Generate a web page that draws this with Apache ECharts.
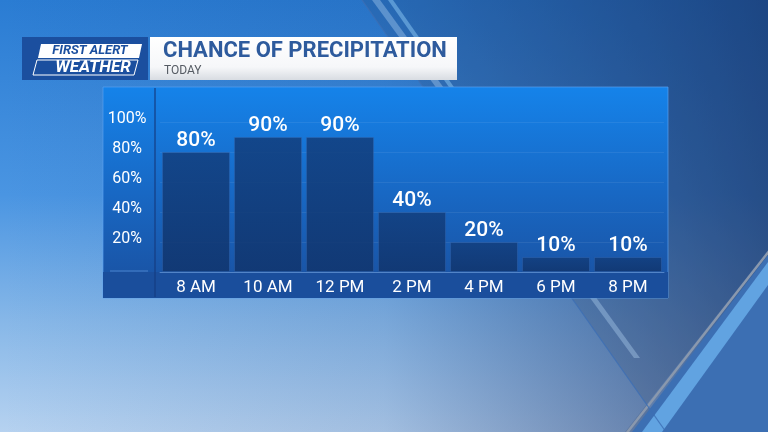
<!DOCTYPE html>
<html>
<head>
<meta charset="utf-8">
<script src="https://cdn.jsdelivr.net/npm/echarts@6/dist/echarts.min.js"></script>
<style>
  html, body { margin: 0; padding: 0; }
  #chart { width: 768px; height: 432px; }
</style>
</head>
<body>
<div id="chart"></div>
<script>
const hours = ['8 AM', '10 AM', '12 PM', '2 PM', '4 PM', '6 PM', '8 PM']
const precipChance = [80, 90, 90, 40, 20, 10, 10]
const yTicks = [0, 20, 40, 60, 80, 100]

const titleText = 'CHANCE OF PRECIPITATION'
const subtitleText = 'TODAY'

const FONT = 'Roboto, "DejaVu Sans", sans-serif'

const chart = echarts.init(document.getElementById('chart'), null, { renderer: 'canvas' })

// backdrop, panel and header are plain decoration
const backdrop = [
  {
    type: 'rect', z: -20, silent: true,
    shape: { x: 0, y: 0, width: 768, height: 432 },
    style: {
      fill: new echarts.graphic.LinearGradient(0, 0, 0, 1, [
        { offset: 0, color: '#2a7cd3' },
        { offset: 0.45, color: '#4a95e2' },
        { offset: 0.75, color: '#88b8e8' },
        { offset: 1, color: '#b6d2f0' }
      ])
    }
  },
  {
    type: 'rect', z: -19, silent: true,
    shape: { x: 0, y: 0, width: 768, height: 432 },
    style: {
      fill: new echarts.graphic.LinearGradient(0, 0, 1, 0, [
        { offset: 0, color: 'rgba(20,50,110,0)' },
        { offset: 0.5, color: 'rgba(20,50,110,0.12)' },
        { offset: 1, color: 'rgba(18,45,100,0.65)' }
      ])
    }
  },
  // grey wedge right of the long diagonal
  {
    type: 'polygon', z: -18, silent: true,
    shape: { points: [[362, 0], [768, 0], [768, 250], [625, 432], [666, 432]] },
    style: { fill: 'rgba(40,60,100,0.18)' }
  },
  // bottom-right blue corner
  {
    type: 'polygon', z: -17, silent: true,
    shape: { points: [[768, 255], [768, 432], [632, 432]] },
    style: { fill: '#3c6fb3' }
  },
  {
    type: 'polygon', z: -16, silent: true,
    shape: { points: [[768, 262], [768, 285], [662, 432], [642, 432]] },
    style: { fill: 'rgba(110,180,240,0.75)' }
  },
  {
    type: 'line', z: -15, silent: true,
    shape: { x1: 770, y1: 250, x2: 626, y2: 434 },
    style: { stroke: '#8a98ad', lineWidth: 2.5 }
  },
  {
    type: 'line', z: -15, silent: true,
    shape: { x1: 362, y1: 0, x2: 666, y2: 432 },
    style: { stroke: 'rgba(60,110,180,0.8)', lineWidth: 1.2 }
  },
  {
    type: 'polygon', z: -15, silent: true,
    shape: { points: [[372, 0], [380, 0], [640, 358], [634, 358]] },
    style: { fill: 'rgba(190,220,250,0.35)' }
  },
  {
    type: 'polygon', z: -15, silent: true,
    shape: { points: [[388, 0], [393, 0], [470, 110], [465, 110]] },
    style: { fill: 'rgba(150,210,250,0.45)' }
  }
]

const panel = [
  {
    type: 'rect', z: -5, silent: true,
    shape: { x: 103, y: 87, width: 565, height: 211 },
    style: {
      fill: new echarts.graphic.LinearGradient(0, 0, 0, 1, [
        { offset: 0, color: '#1583ea' },
        { offset: 0.5, color: '#1868c4' },
        { offset: 1, color: '#1a4f9e' }
      ]),
      stroke: 'rgba(90,160,240,0.7)', lineWidth: 1
    }
  },
  {
    type: 'rect', z: -4, silent: true,
    shape: { x: 103, y: 272, width: 565, height: 26 },
    style: { fill: '#1a4e9c' }
  },
  {
    type: 'line', z: -4, silent: true,
    shape: { x1: 155, y1: 88, x2: 155, y2: 297 },
    style: { stroke: 'rgba(20,60,130,0.8)', lineWidth: 1.5 }
  },
  {
    type: 'line', z: -4, silent: true,
    shape: { x1: 110, y1: 271, x2: 148, y2: 271 },
    style: { stroke: 'rgba(110,160,225,0.6)', lineWidth: 1 }
  }
]

const header = [
  {
    type: 'rect', z: 5, silent: true,
    shape: { x: 22, y: 37, width: 126, height: 43 },
    style: { fill: '#1b4f9f' }
  },
  {
    type: 'polygon', z: 6, silent: true,
    shape: { points: [[41, 44], [142, 44], [139, 58], [38, 58]] },
    style: { fill: '#ffffff' }
  },
  {
    type: 'polygon', z: 6, silent: true,
    shape: { points: [[37, 60], [138, 60], [134, 75], [33, 75]] },
    style: { fill: 'none', stroke: '#ffffff', lineWidth: 1 }
  },
  {
    type: 'text', z: 7, silent: true,
    style: {
      x: 90, y: 51, text: 'FIRST ALERT', fill: '#1b4f9f',
      font: 'italic bold 13px ' + FONT, align: 'center', verticalAlign: 'middle'
    }
  },
  {
    type: 'text', z: 7, silent: true,
    style: {
      x: 93, y: 68, text: 'WEATHER', fill: '#ffffff',
      font: 'italic bold 17px ' + FONT, align: 'center', verticalAlign: 'middle'
    }
  },
  {
    type: 'rect', z: 5, silent: true,
    shape: { x: 150, y: 37, width: 307, height: 43 },
    style: {
      fill: new echarts.graphic.LinearGradient(0, 0, 0, 1, [
        { offset: 0, color: '#ffffff' },
        { offset: 0.7, color: '#f6f7f9' },
        { offset: 1, color: '#d8dce2' }
      ])
    }
  },
  {
    type: 'text', z: 7, silent: true,
    style: {
      x: 163, y: 51, text: titleText, fill: '#2e5b9d',
      font: 'bold 22px ' + FONT, align: 'left', verticalAlign: 'middle'
    }
  },
  {
    type: 'text', z: 7, silent: true,
    style: {
      x: 164, y: 71, text: subtitleText, fill: '#555b63',
      font: '12px ' + FONT, align: 'left', verticalAlign: 'middle'
    }
  }
]

const option = {
  animation: false,
  backgroundColor: 'transparent',
  grid: { left: 160, right: 104, top: 122, bottom: 160 },
  xAxis: {
    type: 'category',
    data: hours,
    axisTick: { show: false },
    axisLine: { lineStyle: { color: 'rgba(110,160,225,0.6)', width: 1 } },
    axisLabel: { color: '#ffffff', fontFamily: FONT, fontSize: 17, margin: 7 }
  },
  yAxis: {
    type: 'value',
    min: yTicks[0],
    max: yTicks[yTicks.length - 1],
    interval: 20,
    axisLine: { show: false },
    axisTick: { show: false },
    splitLine: { lineStyle: { color: 'rgba(255,255,255,0.07)', width: 1 } },
    axisLabel: {
      color: '#ffffff', fontFamily: FONT, fontSize: 16,
      align: 'center', margin: 33, verticalAlign: 'bottom', lineHeight: 7,
      formatter: v => (v === 0 ? '' : v + '%')
    }
  },
  series: [{
    type: 'bar',
    data: precipChance,
    barCategoryGap: '5.5%',
    itemStyle: {
      color: new echarts.graphic.LinearGradient(0, 0, 0, 1, [
        { offset: 0, color: 'rgba(18,62,125,0.85)' },
        { offset: 1, color: 'rgba(16,52,108,0.85)' }
      ]),
      borderColor: 'rgba(60,110,180,0.35)',
      borderWidth: 1
    },
    label: {
      show: true,
      position: 'top',
      distance: 1,
      color: '#ffffff',
      fontFamily: FONT,
      fontSize: 21,
      lineHeight: 20,
      fontWeight: 500,
      formatter: p => p.value + '%'
    }
  }],
  graphic: backdrop.concat(panel, header)
}

chart.setOption(option)
</script>
</body>
</html>
